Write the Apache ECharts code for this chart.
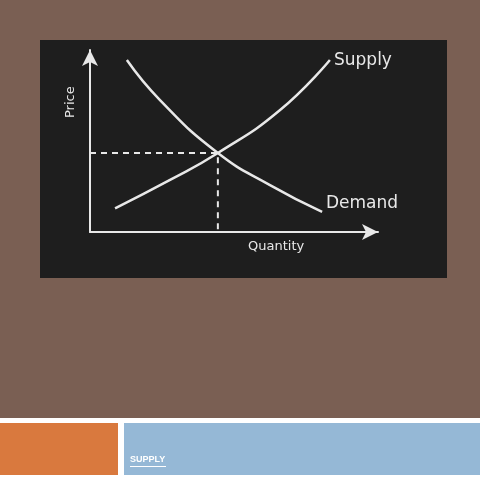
<!DOCTYPE html>
<html><head><meta charset="utf-8">
<script src="https://cdn.jsdelivr.net/npm/echarts@6/dist/echarts.min.js"></script>
<style>html,body{margin:0;padding:0;background:#7a5f53}#c{width:480px;height:480px}</style>
</head><body><div id="c"></div>
<script>
const supplyPts = [[0.87,1.3],[2.78,2.86],[4.44,4.34],[6.6,6.7],[8.33,9.45]];
const demandPts = [[1.28,9.45],[2.43,7.25],[4.44,4.34],[6.25,2.58],[8.06,1.1]];
const equilibrium = [4.44,4.34];
const labels = {supply:'Supply', demand:'Demand', x:'Quantity', y:'Price', footer:'SUPPLY'};
const chalk = '#e8e8e8';
const chart = echarts.init(document.getElementById('c'));
chart.setOption({
  backgroundColor:'#7a5f53',
  animation:false,
  grid:{left:90,right:102,top:50,bottom:248},
  xAxis:{type:'value',min:0,max:10,axisLine:{lineStyle:{color:chalk,width:2},symbol:['none','arrow'],symbolSize:[12,16]},axisTick:{show:false},axisLabel:{show:false},splitLine:{show:false}},
  yAxis:{type:'value',min:0,max:10,axisLine:{show:true,lineStyle:{color:chalk,width:2},symbol:['none','arrow'],symbolSize:[12,16]},axisTick:{show:false},axisLabel:{show:false},splitLine:{show:false}},
  graphic:[
    {type:'rect',z:-10,shape:{x:40,y:40,width:407,height:238},style:{fill:'#1e1e1e'}},
    {type:'rect',z:-10,shape:{x:0,y:418,width:480,height:62},style:{fill:'#ffffff'}},
    {type:'rect',z:-9,shape:{x:0,y:423,width:118,height:52},style:{fill:'#d9793e'}},
    {type:'rect',z:-9,shape:{x:124,y:423,width:356,height:52},style:{fill:'#95b8d6'}},
    {type:'text',left:130,top:455,style:{text:labels.footer,fill:'#fff',font:'bold 9px "Liberation Sans"'}},
    {type:'rect',shape:{x:130,y:466,width:36,height:1},style:{fill:'#fff'}},
    {type:'text',left:334,top:52,style:{text:labels.supply,fill:chalk,font:'17px "DejaVu Sans"'}},
    {type:'text',left:326,top:195,style:{text:labels.demand,fill:chalk,font:'17px "DejaVu Sans"'}},
    {type:'text',left:248,top:240,style:{text:labels.x,fill:chalk,font:'13px "DejaVu Sans"'}},
    {type:'text',x:64,y:118,rotation:Math.PI/2,style:{text:labels.y,fill:chalk,font:'13px "DejaVu Sans"'}}
  ],
  series:[
    {type:'line',data:supplyPts,smooth:true,showSymbol:false,lineStyle:{color:chalk,width:2.5}},
    {type:'line',data:demandPts,smooth:true,showSymbol:false,lineStyle:{color:chalk,width:2.5}},
    {type:'line',data:[[0,equilibrium[1]],equilibrium,[equilibrium[0],0]],showSymbol:false,lineStyle:{color:chalk,width:2,type:[6,5]}}
  ]
});
</script></body></html>
